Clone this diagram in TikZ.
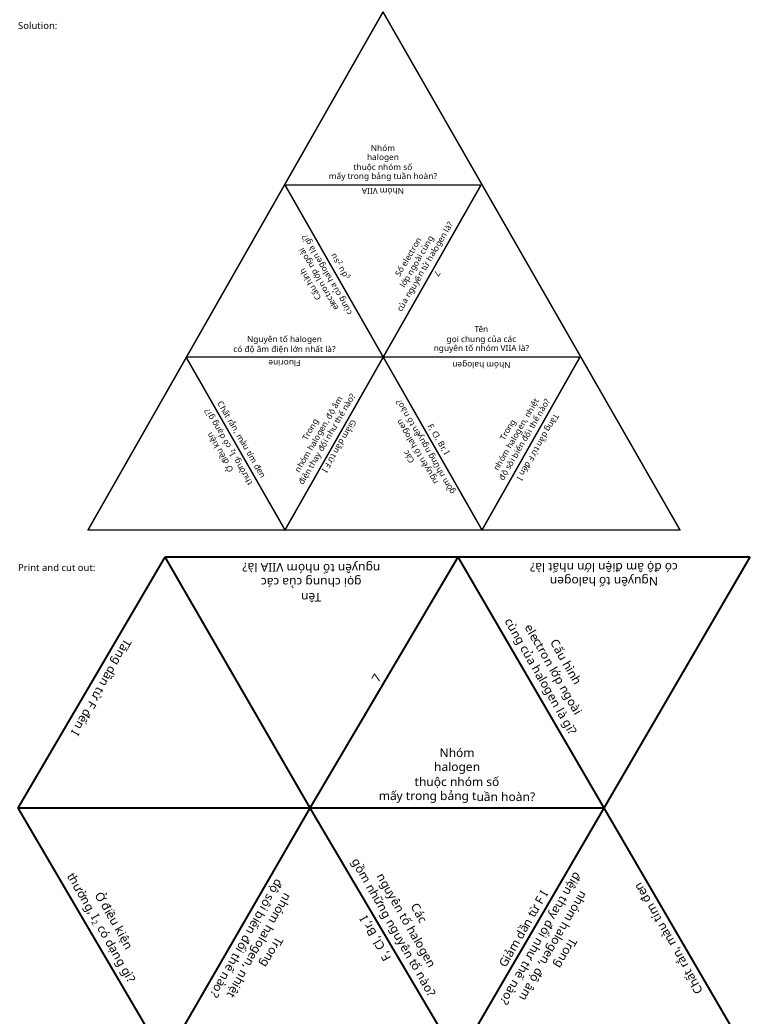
\documentclass[tikz,border=0pt]{standalone}
\usepackage{fontspec}
\setmainfont{Noto Sans}
\usetikzlibrary{calc}
\tikzset{
  edge/.style={line width=1.4pt},
  bedge/.style={line width=1.9pt},
  small/.style={font=\fontsize{8.3}{9.6}\selectfont, align=center, inner sep=3pt},
  big/.style={font=\fontsize{12}{14.5}\selectfont, align=center, inner sep=4pt},
  heading/.style={font=\fontsize{9.5}{11}\selectfont, anchor=west, inner sep=0pt}
}
\newcommand\elab[5][]{%
  \coordinate (mm) at ($(#2)!0.5!(#3)$);
  \path let \p1=($(#4)-(mm)$), \n1={atan2(\y1,\x1)-90} in
    (mm) node[#1,rotate=\n1,anchor=south] {#5};}
\begin{document}
\begin{tikzpicture}[x=1pt,y=-1pt]
\useasboundingbox (0,0) rectangle (768,1024);
\clip (0,0) rectangle (768,1024);
\fill[white] (0,0) rectangle (768,1024);
\node[heading] (sol) at (18,26) {Solution:};
\node[heading] (pr) at (18,568) {Print and cut out:};
% top pyramid
\coordinate (A0) at (383,12);
\coordinate (B1) at (285,185); \coordinate (B2) at (481,185);
\coordinate (C1) at (186,357); \coordinate (C2) at (383,357); \coordinate (C3) at (580,357);
\coordinate (D1) at (88,530); \coordinate (D2) at (285,530); \coordinate (D3) at (482,530); \coordinate (D4) at (680,530);
\draw[edge,line join=round] (A0)--(D1)--(D4)--cycle;
\draw[edge] (B1)--(B2) (C1)--(C3) (B1)--(D3) (B2)--(D2) (C1)--(D2) (C3)--(D3);
% T1
\elab[small]{B1}{B2}{A0}{Nhóm\\halogen\\thuộc nhóm số\\mấy trong bảng tuần hoàn?}
% T2
\elab[small]{B1}{B2}{C2}{Nhóm VIIA}
\elab[small]{B1}{C2}{B2}{ns\textsuperscript{2} np\textsuperscript{5}}
\elab[small]{B2}{C2}{B1}{Số electron\\lớp ngoài cùng\\của nguyên tử halogen là?}
% T3
\elab[small]{B1}{C2}{C1}{Cấu hình\\electron lớp ngoài\\cùng của halogen là gì?}
\elab[small]{C1}{C2}{B1}{Nguyên tố halogen\\có độ âm điện lớn nhất là?}
% T4
\elab[small]{B2}{C2}{C3}{7}
\elab[small]{C2}{C3}{B2}{Tên\\gọi chung của các\\nguyên tố nhóm VIIA là?}
% T5
\elab[small]{C1}{C2}{D2}{Fluorine}
\elab[small]{C1}{D2}{C2}{Chất rắn, màu tím đen}
\elab[small]{C2}{D2}{C1}{Trong\\nhóm halogen, độ âm\\điện thay đổi như thế nào?}
% T6
\elab[small]{C1}{D2}{D1}{Ở điều kiện\\thường, I\textsubscript{2} có dạng gì?}
% T7
\elab[small]{C2}{D2}{D3}{Giảm dần từ F I}
\elab[small]{C2}{D3}{D2}{Các\\nguyên tố halogen\\gồm những nguyên tố nào?}
% T8
\elab[small]{C2}{C3}{D3}{Nhóm halogen}
\elab[small]{C2}{D3}{C3}{F, Cl, Br, I}
\elab[small]{C3}{D3}{C2}{Trong\\nhóm halogen, nhiệt\\độ sôi biến đổi thế nào?}
% T9
\elab[small]{C3}{D3}{D4}{Tăng dần từ F đến I}
% cut-out
\coordinate (P1) at (165,557); \coordinate (P2) at (458,557); \coordinate (P3) at (750,557);
\coordinate (M0) at (18,808); \coordinate (M1) at (310,808); \coordinate (M2) at (604,808);
\coordinate (Q1) at (165,1059); \coordinate (Q2) at (458,1059); \coordinate (Q3) at (750,1059);
\draw[bedge] (P1)--(P3) (M0)--(M2) (P1)--(M0) (P1)--(M1) (P2)--(M1) (P2)--(M2) (P3)--(M2)
  (M0)--(Q1) (M1)--(Q1) (M1)--(Q2) (M2)--(Q2) (M2)--(Q3);
% L1
\elab[big]{P1}{M0}{M1}{Tăng dần từ F đến I}
% L2
\elab[big]{P1}{P2}{M1}{Tên\\gọi chung của các\\nguyên tố nhóm VIIA là?}
\elab[big]{P2}{M1}{P1}{7}
% L3
\elab[big]{M1}{M2}{P2}{Nhóm\\halogen\\thuộc nhóm số\\mấy trong bảng tuần hoàn?}
% L4
\elab[big]{P2}{P3}{M2}{Nguyên tố halogen\\có độ âm điện lớn nhất là?}
\elab[big]{P2}{M2}{P3}{Cấu hình\\electron lớp ngoài\\cùng của halogen là gì?}
% R1
\elab[big]{M0}{Q1}{M1}{Ở điều kiện\\thường, I\textsubscript{2} có dạng gì?}
% R2
\elab[big]{M1}{Q1}{Q2}{Trong\\nhóm halogen, nhiệt\\độ sôi biến đổi thế nào?}
\elab[big]{M1}{Q2}{Q1}{F, Cl, Br, I}
% R3
\elab[big]{M1}{Q2}{M2}{Các\\nguyên tố halogen\\gồm những nguyên tố nào?}
\elab[big]{M2}{Q2}{M1}{Giảm dần từ F I}
% R4
\elab[big]{M2}{Q2}{Q3}{Trong\\nhóm halogen, độ âm\\điện thay đổi như thế nào?}
\elab[big]{M2}{Q3}{Q2}{Chất rắn, màu tím đen}
\end{tikzpicture}
\end{document}
